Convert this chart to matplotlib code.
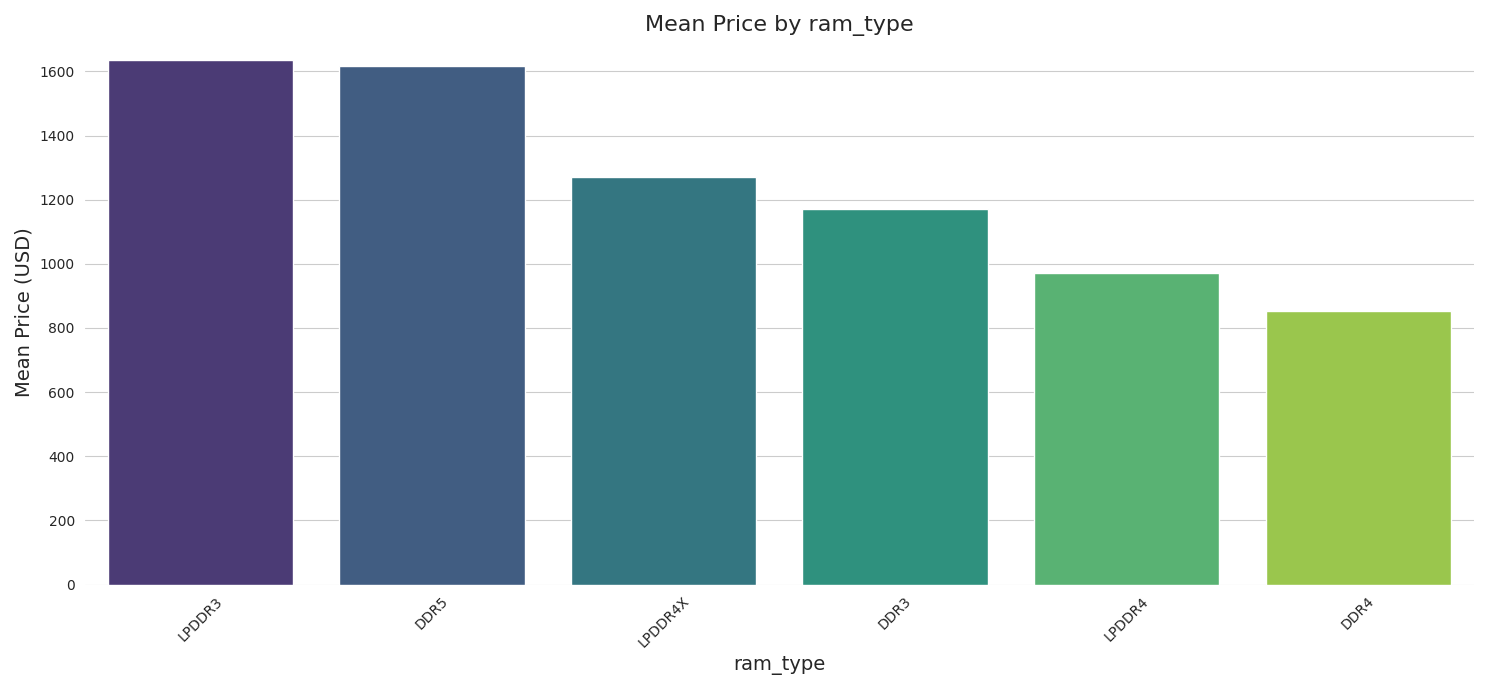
import matplotlib
matplotlib.use("Agg")
import matplotlib.pyplot as plt
import seaborn as sns

categories = ["LPDDR3", "DDR5", "LPDDR4X", "DDR3", "LPDDR4", "DDR4"]
values = [1634, 1618, 1271, 1172, 972, 852]

sns.set_style("whitegrid")
fig, ax = plt.subplots(figsize=(14.89, 6.9), dpi=100)
sns.barplot(x=categories, y=values, hue=categories, palette="viridis", legend=False, ax=ax)
ax.set_title("Mean Price by ram_type", fontsize=16)
ax.set_xlabel("ram_type", fontsize=14)
ax.set_ylabel("Mean Price (USD)", fontsize=14)
ax.set_ylim(0, 1700)
ax.set_yticks(range(0, 1700, 200))
plt.setp(ax.get_xticklabels(), rotation=45)
sns.despine(left=True, bottom=True)
fig.tight_layout()
fig.savefig("out.png", dpi=100)
